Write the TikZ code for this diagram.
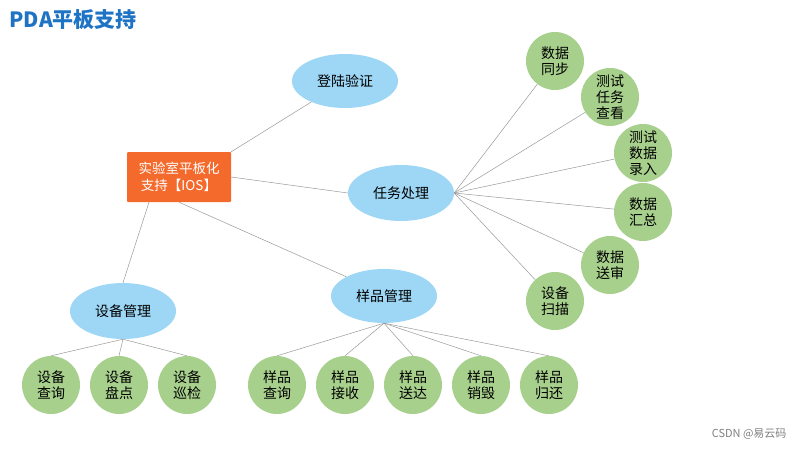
\documentclass[tikz,border=0pt]{standalone}
\usepackage{fontspec}
\setmainfont{Noto Sans CJK SC}
\usetikzlibrary{shapes.geometric}
\definecolor{ttl}{HTML}{1F73C4}
\definecolor{org}{HTML}{F46A2C}
\definecolor{lb}{HTML}{9DD7F5}
\definecolor{gr}{HTML}{A8D08D}
\tikzset{
 ell/.style={ellipse,fill=lb,minimum width=106pt,minimum height=54pt,inner sep=0pt,font=\fontsize{14}{16}\selectfont},
 cir/.style={circle,fill=gr,minimum size=58pt,inner sep=0pt,align=center,font=\fontsize{14}{16}\selectfont},
 ln/.style={draw=gray!80,line width=0.5pt}
}
\begin{document}
\begin{tikzpicture}[x=1pt,y=-1pt]
\useasboundingbox[fill=white] (0,0) rectangle (800,450);
\node[anchor=west,text=ttl,font=\bfseries\fontsize{21}{24}\selectfont] (title) at (6,20) {PDA平板支持};
\node[fill=org,text=white,minimum width=104pt,minimum height=50pt,align=center,inner sep=1pt,rounded corners=1pt,font=\fontsize{13.5}{17}\selectfont] (root) at (179,177) {实验室平板化\\支持【IOS】};
\node[ell] (dl) at (345,81) {登陆验证};
\node[ell,minimum height=56pt] (rw) at (401,193) {任务处理};
\node[ell,minimum height=56pt] (sb) at (123,311) {设备管理};
\node[ell] (yp) at (384,296) {样品管理};
\node[cir] (c1) at (555,61) {数据\\同步};
\node[cir] (c2) at (610,97) {测试\\任务\\查看};
\node[cir] (c3) at (643,153) {测试\\数据\\录入};
\node[cir] (c4) at (643,212) {数据\\汇总};
\node[cir] (c5) at (610,265) {数据\\送审};
\node[cir] (c6) at (555,301) {设备\\扫描};
\node[cir] (d1) at (51,385) {设备\\查询};
\node[cir] (d2) at (119,385) {设备\\盘点};
\node[cir] (d3) at (187,385) {设备\\巡检};
\node[cir] (s1) at (277,385) {样品\\查询};
\node[cir] (s2) at (345,385) {样品\\接收};
\node[cir] (s3) at (413,385) {样品\\送达};
\node[cir] (s4) at (481,385) {样品\\销毁};
\node[cir] (s5) at (549,385) {样品\\归还};
\node[anchor=east,text=gray,font=\fontsize{11}{13}\selectfont] (wm) at (790,434) {CSDN @易云码};
\draw[ln] (root.north east) -- (dl);
\draw[ln] (root.east) -- (rw.west);
\draw[ln] (root.south) ++(-30,0) -- (sb.north);
\draw[ln] (root.south) -- (yp.north west);
\foreach \c in {c1,c2,c3,c4,c5,c6} \draw[ln] (rw.east) -- (\c);
\foreach \c in {d1,d2,d3} \draw[ln] (sb.south) -- (\c.north);
\foreach \c in {s1,s2,s3,s4,s5} \draw[ln] (yp.south) -- (\c.north);
\end{tikzpicture}
\end{document}
